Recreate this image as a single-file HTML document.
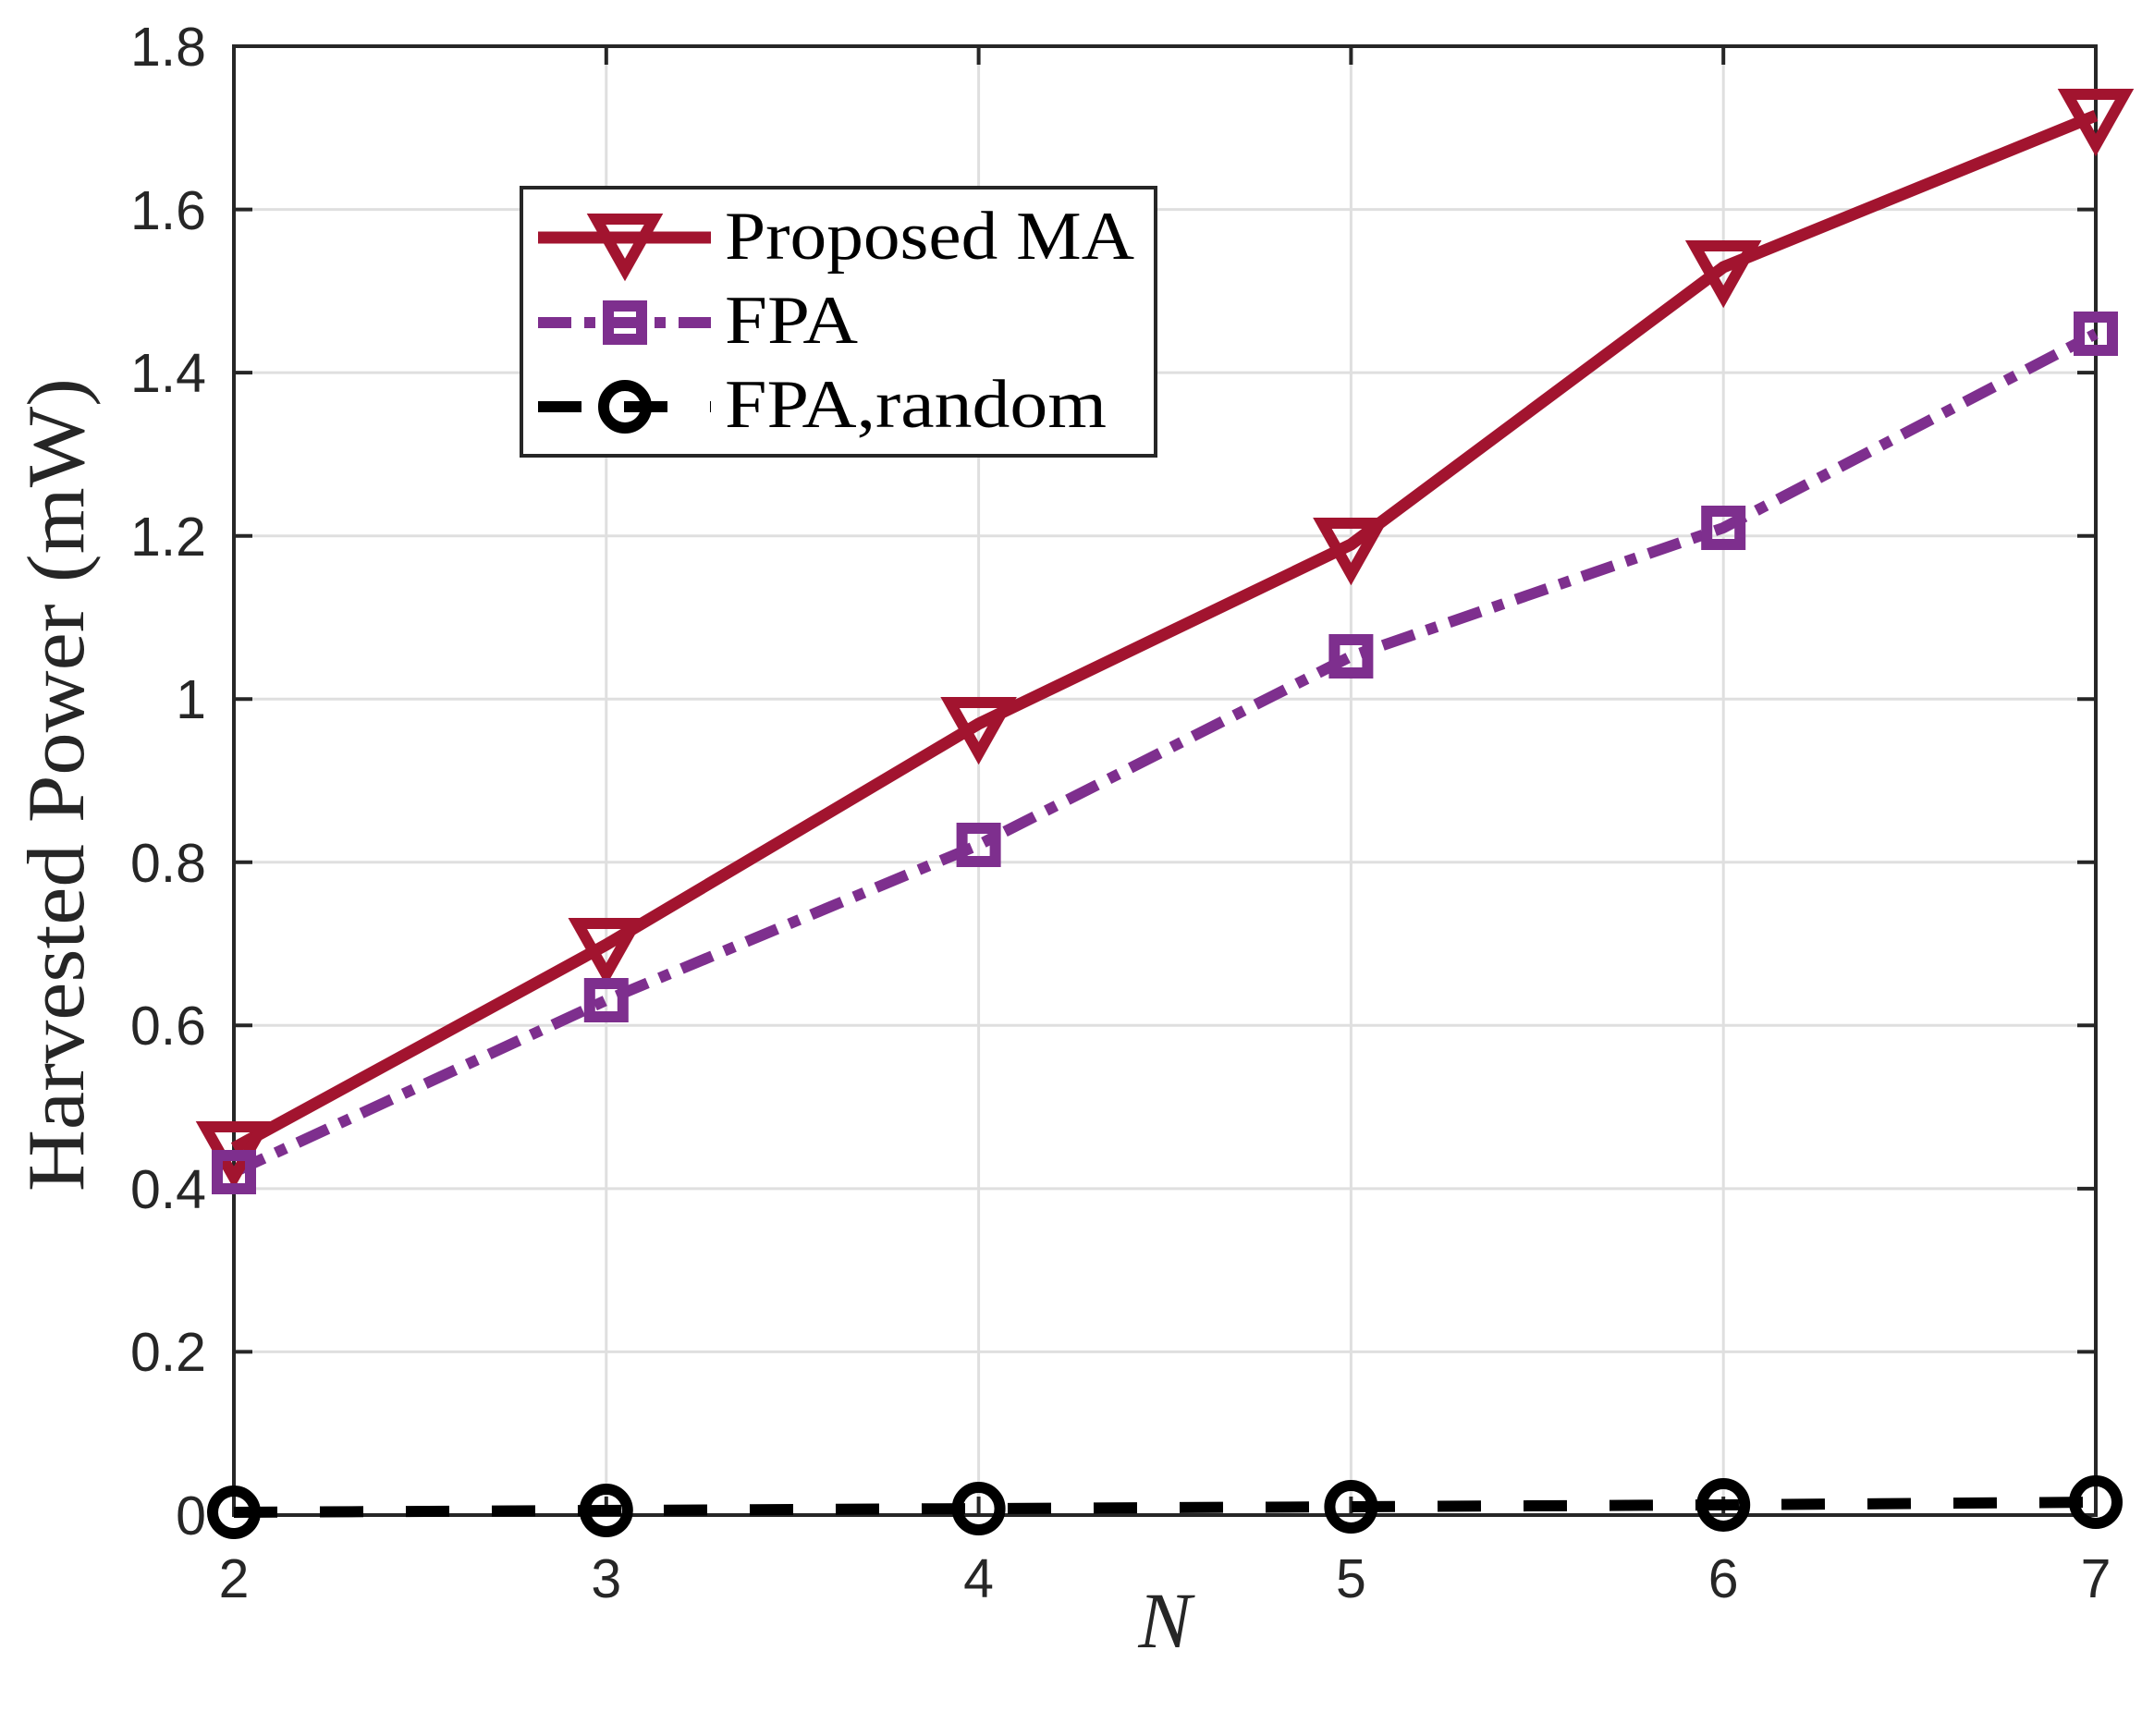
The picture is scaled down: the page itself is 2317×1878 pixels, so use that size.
<!DOCTYPE html>
<html><head><meta charset="utf-8"><style>html,body{margin:0;padding:0;background:#fff}</style></head>
<body>
<svg width="2317" height="1873" xmlns="http://www.w3.org/2000/svg">
<rect width="2317" height="1873" fill="#fff"/>
<g stroke="#dfdfdf" stroke-width="3">
<line x1="655.8" y1="50" x2="655.8" y2="1639"/><line x1="1058.6" y1="50" x2="1058.6" y2="1639"/><line x1="1461.4" y1="50" x2="1461.4" y2="1639"/><line x1="1864.2" y1="50" x2="1864.2" y2="1639"/>
<line x1="253" y1="1462.4" x2="2267" y2="1462.4"/><line x1="253" y1="1285.9" x2="2267" y2="1285.9"/><line x1="253" y1="1109.3" x2="2267" y2="1109.3"/><line x1="253" y1="932.8" x2="2267" y2="932.8"/><line x1="253" y1="756.2" x2="2267" y2="756.2"/><line x1="253" y1="579.7" x2="2267" y2="579.7"/><line x1="253" y1="403.1" x2="2267" y2="403.1"/><line x1="253" y1="226.6" x2="2267" y2="226.6"/>
</g>
<g stroke="#262626" stroke-width="4">
<rect x="253" y="50" width="2014" height="1589" fill="none"/>
<path d="M655.8 1639v-20M1058.6 1639v-20M1461.4 1639v-20M1864.2 1639v-20M655.8 50v20M1058.6 50v20M1461.4 50v20M1864.2 50v20"/>
<path d="M253 1462.4h20M253 1285.9h20M253 1109.3h20M253 932.8h20M253 756.2h20M253 579.7h20M253 403.1h20M253 226.6h20"/>
<path d="M2267 1462.4h-20M2267 1285.9h-20M2267 1109.3h-20M2267 932.8h-20M2267 756.2h-20M2267 579.7h-20M2267 403.1h-20M2267 226.6h-20"/>
</g>
<g font-family="Liberation Sans, sans-serif" font-size="59" fill="#262626" text-anchor="end">
<text x="223" y="1660">0</text><text x="223" y="1483">0.2</text><text x="223" y="1307">0.4</text><text x="223" y="1130">0.6</text><text x="223" y="954">0.8</text><text x="223" y="777">1</text><text x="223" y="601">1.2</text><text x="223" y="424">1.4</text><text x="223" y="248">1.6</text><text x="223" y="71">1.8</text>
</g>
<g font-family="Liberation Sans, sans-serif" font-size="59" fill="#262626" text-anchor="middle">
<text x="253" y="1728">2</text><text x="655.8" y="1728">3</text><text x="1058.6" y="1728">4</text><text x="1461.4" y="1728">5</text><text x="1864.2" y="1728">6</text><text x="2267" y="1728">7</text>
</g>
<text x="1260" y="1782" font-family="Liberation Serif, serif" font-style="italic" font-size="86" fill="#262626" text-anchor="middle">N</text>
<text transform="translate(90,849) rotate(-90)" font-family="Liberation Serif, serif" font-size="88" fill="#262626" text-anchor="middle" textLength="880" lengthAdjust="spacingAndGlyphs">Harvested Power (mW)</text>
<polyline points="253,1636 655.8,1634 1058.6,1632 1461.4,1630 1864.2,1628 2267,1625" fill="none" stroke="#000" stroke-width="12" stroke-dasharray="47,46"/>
<g fill="none" stroke="#000" stroke-width="12">
<circle cx="253" cy="1636" r="23"/><circle cx="655.8" cy="1634" r="23"/><circle cx="1058.6" cy="1632" r="23"/><circle cx="1461.4" cy="1630" r="23"/><circle cx="1864.2" cy="1628" r="23"/><circle cx="2267" cy="1625" r="23"/>
</g>
<polyline points="253,1268 655.8,1082 1058.6,914 1461.4,710 1864.2,571 2267,361" fill="none" stroke="#7E2F8E" stroke-width="12" stroke-dasharray="36,14,12,14"/>
<polyline points="253,1242 655.8,1022 1058.6,783 1461.4,589 1864.2,289 2267,125" fill="none" stroke="#A2142F" stroke-width="13"/>
<g fill="none" stroke="#A2142F" stroke-width="12" stroke-linejoin="miter">
<path d="M222 1219h62l-31 55z"/><path d="M624.8 999h62l-31 55z"/><path d="M1027.6 760h62l-31 55z"/><path d="M1430.4 566h62l-31 55z"/><path d="M1833.2 266h62l-31 55z"/><path d="M2236 102h62l-31 55z"/>
</g>
<g fill="none" stroke="#7E2F8E" stroke-width="12">
<rect x="235" y="1250" width="36" height="36"/><rect x="637.8" y="1064" width="36" height="36"/><rect x="1040.6" y="896" width="36" height="36"/><rect x="1443.4" y="692" width="36" height="36"/><rect x="1846.2" y="553" width="36" height="36"/><rect x="2249" y="343" width="36" height="36"/>
</g>
<rect x="564" y="203" width="686" height="290" fill="#fff" stroke="#262626" stroke-width="4"/>
<line x1="582" y1="257" x2="769" y2="257" stroke="#A2142F" stroke-width="13"/>
<path d="M645 237h62l-31 55z" fill="none" stroke="#A2142F" stroke-width="12"/>
<line x1="582" y1="349" x2="769" y2="349" stroke="#7E2F8E" stroke-width="12" stroke-dasharray="36,14,12,14"/>
<rect x="658" y="331" width="36" height="36" fill="none" stroke="#7E2F8E" stroke-width="12"/>
<line x1="582" y1="440" x2="769" y2="440" stroke="#000" stroke-width="12" stroke-dasharray="47,46"/>
<circle cx="676" cy="440" r="23" fill="none" stroke="#000" stroke-width="12"/>
<g font-family="Liberation Serif, serif" font-size="74" fill="#000">
<text x="784" y="280" textLength="443" lengthAdjust="spacingAndGlyphs">Proposed MA</text><text x="784" y="371" textLength="144" lengthAdjust="spacingAndGlyphs">FPA</text><text x="784" y="462" textLength="413" lengthAdjust="spacingAndGlyphs">FPA,random</text>
</g>
</svg>
</body></html>
